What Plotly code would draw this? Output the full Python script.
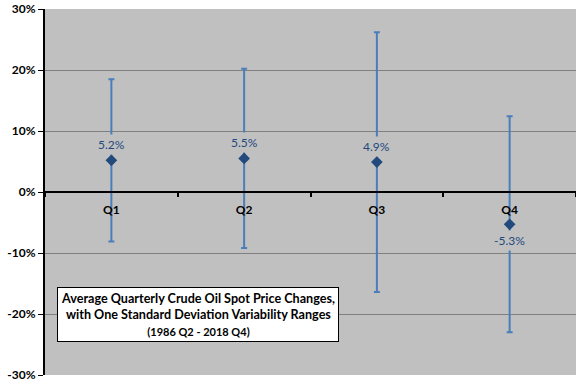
import plotly.graph_objects as go

quarters = ["Q1", "Q2", "Q3", "Q4"]
mean_change = [5.2, 5.5, 4.9, -5.3]
std_dev = [13.3, 14.7, 21.3, 17.7]
value_labels = ["5.2%", "5.5%", "4.9%", "-5.3%"]
y_ticks = [-30, -20, -10, 0, 10, 20, 30]
y_tick_labels = ["-30%", "-20%", "-10%", "0%", "10%", "20%", "30%"]

FONT = "Lato"

fig = go.Figure()
fig.add_trace(go.Scatter(
    x=quarters, y=mean_change, mode="markers",
    marker=dict(symbol="diamond", size=9, color="#234a7c"),
    error_y=dict(type="data", array=std_dev, visible=True,
                 color="#4a7ebb", thickness=2, width=3),
    showlegend=False, hoverinfo="skip",
))

for q, v, lab in zip(quarters, mean_change, value_labels):
    fig.add_annotation(
        x=q, y=v, text=lab, showarrow=False,
        yshift=16 if v >= 0 else -16,
        font=dict(family=FONT, size=12, color="#1f497d"),
        bgcolor="#c0c0c0", borderpad=2,
    )

fig.add_annotation(
    xref="paper", yref="paper", x=0.289, y=0.164, xanchor="center", yanchor="middle",
    text="<b>Average Quarterly Crude Oil Spot Price Changes,<br>with One Standard Deviation Variability Ranges</b><br>"
         "<span style='font-size:11px'><b>(1986 Q2 - 2018 Q4)</b></span>",
    showarrow=False, align="center",
    font=dict(family=FONT, size=12.6, color="black"),
    bgcolor="white", bordercolor="black", borderwidth=1, borderpad=3,
)

fig.update_layout(
    width=576, height=384,
    margin=dict(l=45, r=0, t=9, b=9, autoexpand=False),
    paper_bgcolor="white", plot_bgcolor="#c0c0c0",
    xaxis=dict(
        type="category", categoryorder="array", categoryarray=quarters,
        range=[-0.5, 3.5], anchor="free", position=0.5, automargin=False,
        showline=True, linecolor="black", linewidth=2,
        ticks="outside", tickson="boundaries", ticklen=4, tickwidth=2, tickcolor="black",
        showgrid=False, zeroline=False, ticklabelstandoff=7,
        tickfont=dict(family=FONT, size=12, color="black", weight="bold"),
    ),
    yaxis=dict(
        range=[-30, 30], tickvals=y_ticks, ticktext=y_tick_labels, automargin=False,
        showline=True, linecolor="black", linewidth=2,
        ticks="outside", ticklen=5, tickwidth=1, tickcolor="black",
        showgrid=True, gridcolor="#808080", gridwidth=1, zeroline=False,
        tickfont=dict(family=FONT, size=12, color="black", weight="bold"),
    ),
)

fig.write_html("out.html", config={"displayModeBar": False},
               post_script="document.body.style.margin='0';")
